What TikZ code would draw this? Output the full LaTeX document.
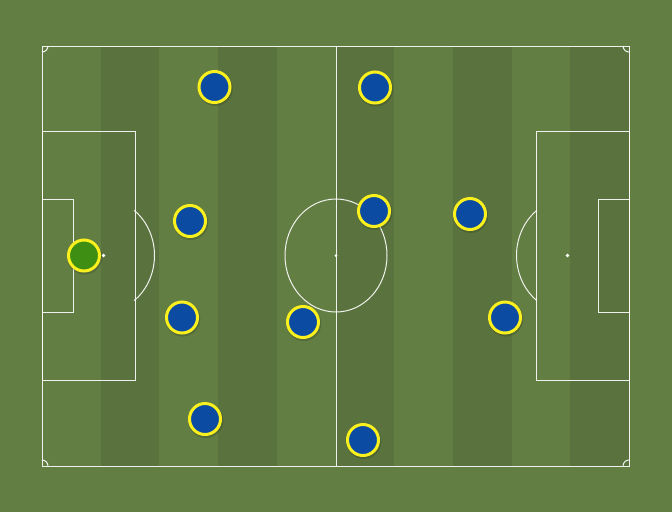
\documentclass[tikz,border=0pt]{standalone}
\begin{document}
\begin{tikzpicture}[x=1pt,y=-1pt,
  pitchline/.style={draw=white,draw opacity=0.9,line width=1pt},
  player/.style={circle,draw={rgb,255:red,250;green,240;blue,30},line width=3pt,fill={rgb,255:red,11;green,75;blue,162},minimum size=31pt,inner sep=0pt},
  keeper/.style={player,fill={rgb,255:red,62;green,142;blue,20}},
  shadow/.style={fill=black,fill opacity=0.15}]
\definecolor{grass}{RGB}{99,126,67}
\definecolor{stripe}{RGB}{90,115,62}
\useasboundingbox (0,0) rectangle (672,512);
\fill[grass] (0,0) rectangle (672,512);
% stripes
\foreach \i in {1,3,5,7,9}{
  \fill[stripe] ({42+\i*58.7},46) rectangle ({42+(\i+1)*58.7},466);
}
% outer lines
\draw[pitchline] (42,46) rectangle (629,466);
\draw[pitchline] (336,46) -- (336,466);
% centre circle
\draw[pitchline] (336,255.5) ellipse [x radius=51,y radius=56.5];
\fill[white] (336,255.5) circle (1.5);
% left
\draw[pitchline] (42,131) rectangle (135,380);
\draw[pitchline] (42,199) rectangle (73,312);
\fill[white] (103.5,255.5) circle (1.8);
\draw[pitchline] (103.5,255.5) ++(-52.9:51 and 56.5) arc [start angle=-52.9,end angle=52.9,x radius=51,y radius=56.5];
% right
\draw[pitchline] (536,131) rectangle (629,380);
\draw[pitchline] (598,199) rectangle (629,312);
\fill[white] (567.5,255.5) circle (1.8);
\draw[pitchline] (567.5,255.5) ++(232.9:51 and 56.5) arc [start angle=232.9,end angle=127.1,x radius=51,y radius=56.5];
% corner arcs
\draw[pitchline] (48,46) arc [start angle=0,end angle=90,radius=6];
\draw[pitchline] (623,46) arc [start angle=180,end angle=90,radius=6];
\draw[pitchline] (48,466) arc [start angle=0,end angle=-90,radius=6];
\draw[pitchline] (623,466) arc [start angle=180,end angle=270,radius=6];
% shadows
\foreach \px/\py in {84/255.5,214.5/87,375/87.5,190/221,374/211,470/214,182/317.5,303/322,505/317.5,205/419,363/440}{
  \fill[shadow] (\px+0.8,\py+1.5) circle (17.5);
}
% players
\node[keeper] (gk) at (84,255.5) {};
\node[player] (p1) at (214.5,87) {};
\node[player] (p2) at (375,87.5) {};
\node[player] (p3) at (190,221) {};
\node[player] (p4) at (374,211) {};
\node[player] (p5) at (470,214) {};
\node[player] (p6) at (182,317.5) {};
\node[player] (p7) at (303,322) {};
\node[player] (p8) at (505,317.5) {};
\node[player] (p9) at (205,419) {};
\node[player] (p10) at (363,440) {};
\end{tikzpicture}
\end{document}
